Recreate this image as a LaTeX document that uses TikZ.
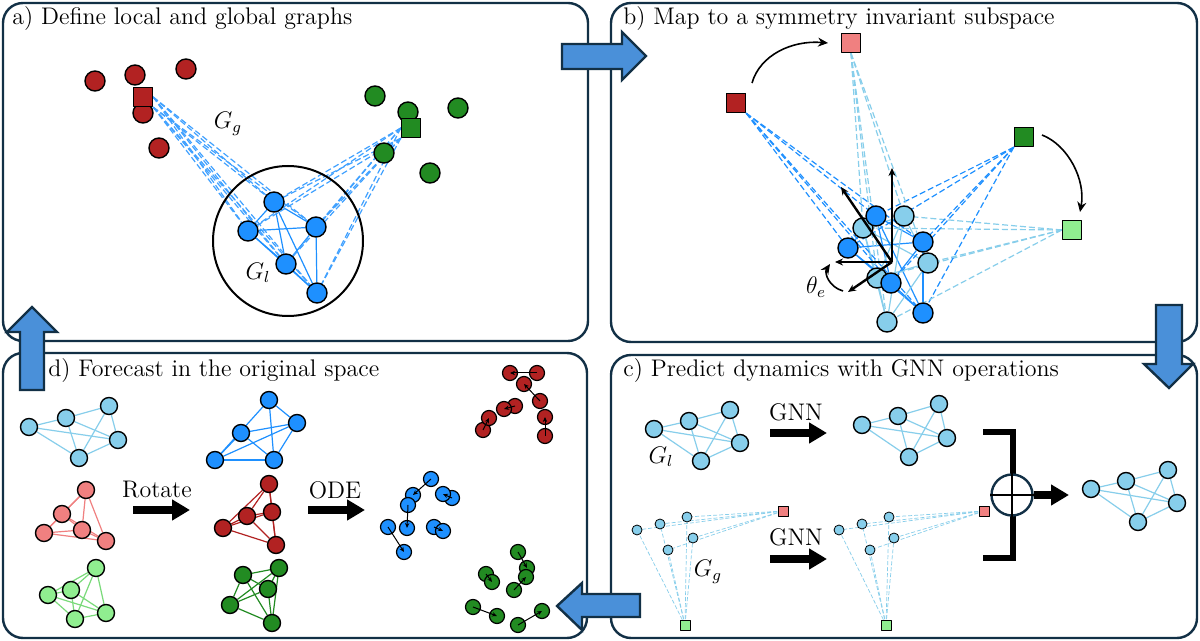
\documentclass[tikz,border=0pt]{standalone}
\usepackage{fontspec}
\usepackage{tikz}
\usetikzlibrary{arrows.meta,calc}
\usepackage{xcolor}
\definecolor{dodger}{RGB}{30,144,255}
\definecolor{skyb}{RGB}{135,206,235}
\definecolor{brick}{RGB}{178,34,34}
\definecolor{coral}{RGB}{240,128,128}
\definecolor{forest}{RGB}{34,139,34}
\definecolor{mint}{RGB}{144,238,144}
\definecolor{navy}{RGB}{18,48,70}
\definecolor{flow}{RGB}{74,144,217}

\pgfdeclarelayer{paper}
\pgfdeclarelayer{back}
\pgfsetlayers{paper,back,main}

\newcommand{\alledges}{1/2,1/3,1/4,1/5,2/3,2/4,2/5,3/4,3/5,4/5}
\newcommand{\skyedges}{1/2,1/4,1/5,2/3,2/4,2/5,3/4,3/5,4/5}

\tikzset{
  panel/.style={draw=navy,line width=1.2pt,rounded corners=10pt,fill=white},
  title/.style={anchor=base west,inner sep=0pt,font=\fontsize{12}{14}\selectfont},
  lab/.style={inner sep=0pt,font=\fontsize{12}{14}\selectfont},
  ball/.style={circle,draw=black,line width=0.7pt,inner sep=0pt,minimum size=10pt},
  midball/.style={ball,minimum size=8.5pt},
  odeball/.style={ball,minimum size=7.5pt,line width=0.6pt},
  smallball/.style={ball,minimum size=5pt,line width=0.4pt},
  sq/.style={rectangle,draw=black,line width=0.7pt,inner sep=0pt,minimum size=9.5pt},
  smallsq/.style={sq,minimum size=5pt,line width=0.4pt},
  link/.style={line width=0.6pt},
  glink/.style={line width=0.6pt,dash pattern=on 3pt off 1.5pt},
  thinlink/.style={line width=0.35pt,dash pattern=on 2pt off 1pt},
  axis/.style={line width=1.2pt,-{Stealth[length=4pt,width=3.5pt]}},
  swing/.style={line width=0.8pt,-{Stealth[length=5pt,width=4.5pt]}},
  push/.style={line width=4.2pt,-{Triangle[length=9pt,width=10pt]}},
  tick/.style={line width=0.5pt,-{Stealth[length=2.5pt,width=2.2pt]}},
  bigarrow/.style={draw=navy,line width=1.2pt,fill=flow,line join=miter}
}

\begin{document}
\begin{tikzpicture}[x=0.5pt,y=-0.5pt,line join=round]
\useasboundingbox (0,0) rectangle (1200,641);
\begin{pgfonlayer}{paper}
\fill[white] (0,0) rectangle (1200,641);
\draw[panel] (3,3) rectangle (588,341);
\draw[panel] (611,3) rectangle (1197,342);
\draw[panel] (611,355) rectangle (1197,638);
\draw[panel] (3,353) rectangle (587,638);
\end{pgfonlayer}

% a) local and global graphs
\node[title] (ta) at (12,25) {a) Define local and global graphs};
\foreach \n/\x/\y in {1/95/81,2/135/75,3/186/69,4/143/113,5/159/148}
  \node[ball,fill=brick] (ra\n) at (\x,\y) {};
\node[sq,fill=brick] (sra) at (143,97) {};
\foreach \n/\x/\y in {1/375/96,2/408/112,3/458/108,4/384/153,5/430/173}
  \node[ball,fill=forest] (ga\n) at (\x,\y) {};
\node[sq,fill=forest] (sga) at (411,128) {};
\node[circle,draw,line width=1pt,inner sep=0pt,minimum size=75pt] (zone) at (288,241) {};
\foreach \n/\x/\y in {1/274/202,2/248/231,3/316/227,4/286/264,5/317/293}
  \node[ball,fill=dodger] (la\n) at (\x,\y) {};
\node[lab] (gga) at (228,124) {$G_g$};
\node[lab] (gla) at (258,273) {$G_l$};
\begin{pgfonlayer}{back}
\foreach \i/\j in \alledges
  \draw[link,dodger] (la\i) -- (la\j);
\foreach \i in {1,...,5}{
  \draw[glink,dodger!85] (sra.south east) -- (la\i.center);
  \draw[glink,dodger!85] (sra.east) -- (la\i.center);
  \draw[glink,dodger!85] (sga.south west) -- (la\i.center);
  \draw[glink,dodger!85] (sga.west) -- (la\i.center);
}
\end{pgfonlayer}

% b) invariant subspace
\node[title] (tb) at (623,25) {b) Map to a symmetry invariant subspace};
\node[sq,fill=brick] (srb) at (736,103) {};
\node[sq,fill=coral] (spb) at (851,43) {};
\node[sq,fill=forest] (sgb) at (1024,137) {};
\node[sq,fill=mint] (smb) at (1072,230) {};
\foreach \n/\x/\y in {1/863/228,2/904/216,3/928/263,4/877/278,5/887/322}
  \node[ball,fill=skyb] (cb\n) at (\x,\y) {};
\foreach \n/\x/\y in {1/876/216,2/848/248,3/923/242,4/891/283,5/923/313}
  \node[ball,fill=dodger] (bb\n) at (\x,\y) {};
\begin{pgfonlayer}{back}
\foreach \i/\j in \alledges{
  \draw[link,skyb] (cb\i) -- (cb\j);
  \draw[link,dodger] (bb\i) -- (bb\j);
}
\foreach \i in {1,...,5}{
  \draw[glink,dodger] (srb.south east) -- (bb\i.center);
  \draw[glink,dodger] (sgb.south west) -- (bb\i.center);
  \draw[glink,skyb] (spb.south) -- (cb\i.center);
  \draw[glink,skyb] (smb.west) -- (cb\i.center);
}
\end{pgfonlayer}
\coordinate (O) at (892,262);
\draw[axis] (O) -- (892,168);
\draw[axis] (O) -- (835,262);
\draw[axis] (O) -- (841,187);
\draw[axis] (O) -- (848,292);
\draw[swing] (843,291) .. controls (829,287) and (824,273) .. (830,264);
\node[lab] (theta) at (816,287) {$\theta_e$};
\draw[swing] (752,83) .. controls (760,55) and (792,40) .. (828,43);
\draw[swing] (1042,135) .. controls (1068,145) and (1086,180) .. (1080,212);

% c) GNN operations
\node[title] (tc) at (623,377) {c) Predict dynamics with GNN operations};
\foreach \n/\x/\y in {1/654/429,2/689/421,3/730/410,4/740/443,5/701/461}
  \node[midball,fill=skyb] (lc\n) at (\x,\y) {};
\foreach \n/\x/\y in {1/862/425,2/898/416,3/939/404,4/947/438,5/909/457}
  \node[midball,fill=skyb] (mc\n) at (\x,\y) {};
\foreach \n/\x/\y in {1/1091/489,2/1126/481,3/1168/470,4/1177/503,5/1138/522}
  \node[midball,fill=skyb] (oc\n) at (\x,\y) {};
\foreach \n/\x/\y in {1/637/530,2/660/524,3/687/517,4/693/538,5/668/550}
  \node[smallball,fill=skyb] (gc\n) at (\x,\y) {};
\node[smallsq,fill=coral] (spc) at (783,511) {};
\node[smallsq,fill=mint] (smc) at (685,625) {};
\foreach \n/\x/\y in {1/839/530,2/862/524,3/889/517,4/894/538,5/870/550}
  \node[smallball,fill=skyb] (hc\n) at (\x,\y) {};
\node[smallsq,fill=coral] (spd) at (984,511) {};
\node[smallsq,fill=mint] (smd) at (886,625) {};
\begin{pgfonlayer}{back}
\foreach \i/\j in \skyedges{
  \draw[link,skyb] (lc\i) -- (lc\j);
  \draw[link,skyb] (mc\i) -- (mc\j);
  \draw[link,skyb] (oc\i) -- (oc\j);
}
\foreach \i in {1,...,5}{
  \draw[thinlink,skyb] (spc.center) -- (gc\i.center);
  \draw[thinlink,skyb] (smc.center) -- (gc\i.center);
  \draw[thinlink,skyb] (spd.center) -- (hc\i.center);
  \draw[thinlink,skyb] (smd.center) -- (hc\i.center);
}
\end{pgfonlayer}
\node[lab] (glc) at (661,457) {$G_l$};
\node[lab] (ggc) at (708,572) {$G_g$};
\node[lab] (gnn1) at (796,412) {GNN};
\node[lab] (gnn2) at (796,537) {GNN};
\draw[push] (770,433) -- (827,433);
\draw[push] (770,559) -- (827,559);
\draw[line width=3.2pt,line join=miter] (983,432) -- (1013,432) -- (1013,558) -- (983,558);
\node[circle,draw=navy,fill=white,line width=1.2pt,inner sep=0pt,minimum size=20.5pt] (sum) at (1012,495) {};
\draw[line width=1.2pt] (sum.north) -- (sum.south);
\draw[line width=1.2pt] (sum.west) -- (sum.east);
\draw[push] (sum.east) -- (1069,495);

% d) back to original space
\node[title] (td) at (48,377) {d) Forecast in the original space};
\foreach \n/\x/\y in {1/29/427,2/66/418,3/109/406,4/118/440,5/79/458}
  \node[midball,fill=skyb] (sd\n) at (\x,\y) {};
\foreach \n/\x/\y in {1/86/490,2/62/514,3/82/530,4/44/533,5/106/541}
  \node[midball,fill=coral] (cd\n) at (\x,\y) {};
\foreach \n/\x/\y in {1/96/568,2/71/590,3/48/595,4/106/613,5/75/619}
  \node[midball,fill=mint] (md\n) at (\x,\y) {};
\foreach \n/\x/\y in {1/269/400,2/297/423,3/241/433,4/215/460,5/274/460}
  \node[midball,fill=dodger] (dd\n) at (\x,\y) {};
\foreach \n/\x/\y in {1/269/484,2/272/512,3/247/516,4/223/528,5/276/545}
  \node[midball,fill=brick] (bd\n) at (\x,\y) {};
\foreach \n/\x/\y in {1/279/568,2/243/575,3/268/589,4/230/605,5/272/623}
  \node[midball,fill=forest] (fd\n) at (\x,\y) {};
\begin{pgfonlayer}{back}
\foreach \i/\j in \skyedges{
  \draw[link,skyb] (sd\i) -- (sd\j);
  \draw[link,dodger] (dd\i) -- (dd\j);
}
\foreach \i/\j in \alledges{
  \draw[link,coral] (cd\i) -- (cd\j);
  \draw[link,mint!80!forest] (md\i) -- (md\j);
  \draw[link,brick] (bd\i) -- (bd\j);
  \draw[link,forest] (fd\i) -- (fd\j);
}
\end{pgfonlayer}
\node[lab] (rot) at (157,490) {Rotate};
\draw[push] (133,510) -- (190,510);
\node[lab] (ode) at (335,490) {ODE};
\draw[push] (308,510) -- (365,510);
% trajectories after integration
\foreach \n/\x/\y/\u/\v in {1/431/479/413/495,2/408/505/407/528,3/452/498/443/494,4/388/527/404/552,5/434/527/443/531}{
  \node[odeball,fill=dodger] (ub\n) at (\x,\y) {};
  \node[odeball,fill=dodger] (ue\n) at (\u,\v) {};
  \draw[tick] (ub\n.center) -- (ue\n.center);
}
\foreach \n/\x/\y/\u/\v in {1/537/373/510/373,2/540/401/524/384,3/515/406/504/409,4/483/430/489/418,5/545/436/545/417}{
  \node[odeball,fill=brick] (vb\n) at (\x,\y) {};
  \node[odeball,fill=brick] (ve\n) at (\u,\v) {};
  \draw[tick] (vb\n.center) -- (ve\n.center);
}
\foreach \n/\x/\y/\u/\v in {1/518/552/527/568,2/514/590/526/577,3/486/574/492/582,4/473/607/497/616,5/518/625/542/611}{
  \node[odeball,fill=forest] (wb\n) at (\x,\y) {};
  \node[odeball,fill=forest] (we\n) at (\u,\v) {};
  \draw[tick] (wb\n.center) -- (we\n.center);
}

% flow between panels
\draw[bigarrow] (562,44) -- (622,44) -- (622,32) -- (646,56) -- (622,80) -- (622,69) -- (562,69) -- cycle;
\draw[bigarrow] (1156,305) -- (1182,305) -- (1182,364) -- (1193,364) -- (1169,388) -- (1144,364) -- (1156,364) -- cycle;
\draw[bigarrow] (640,594) -- (582,594) -- (582,583) -- (557,606) -- (582,630) -- (582,617) -- (640,617) -- cycle;
\draw[bigarrow] (20,390) -- (44,390) -- (44,332) -- (57,332) -- (32,307) -- (7,332) -- (20,332) -- cycle;
\end{tikzpicture}
\end{document}
